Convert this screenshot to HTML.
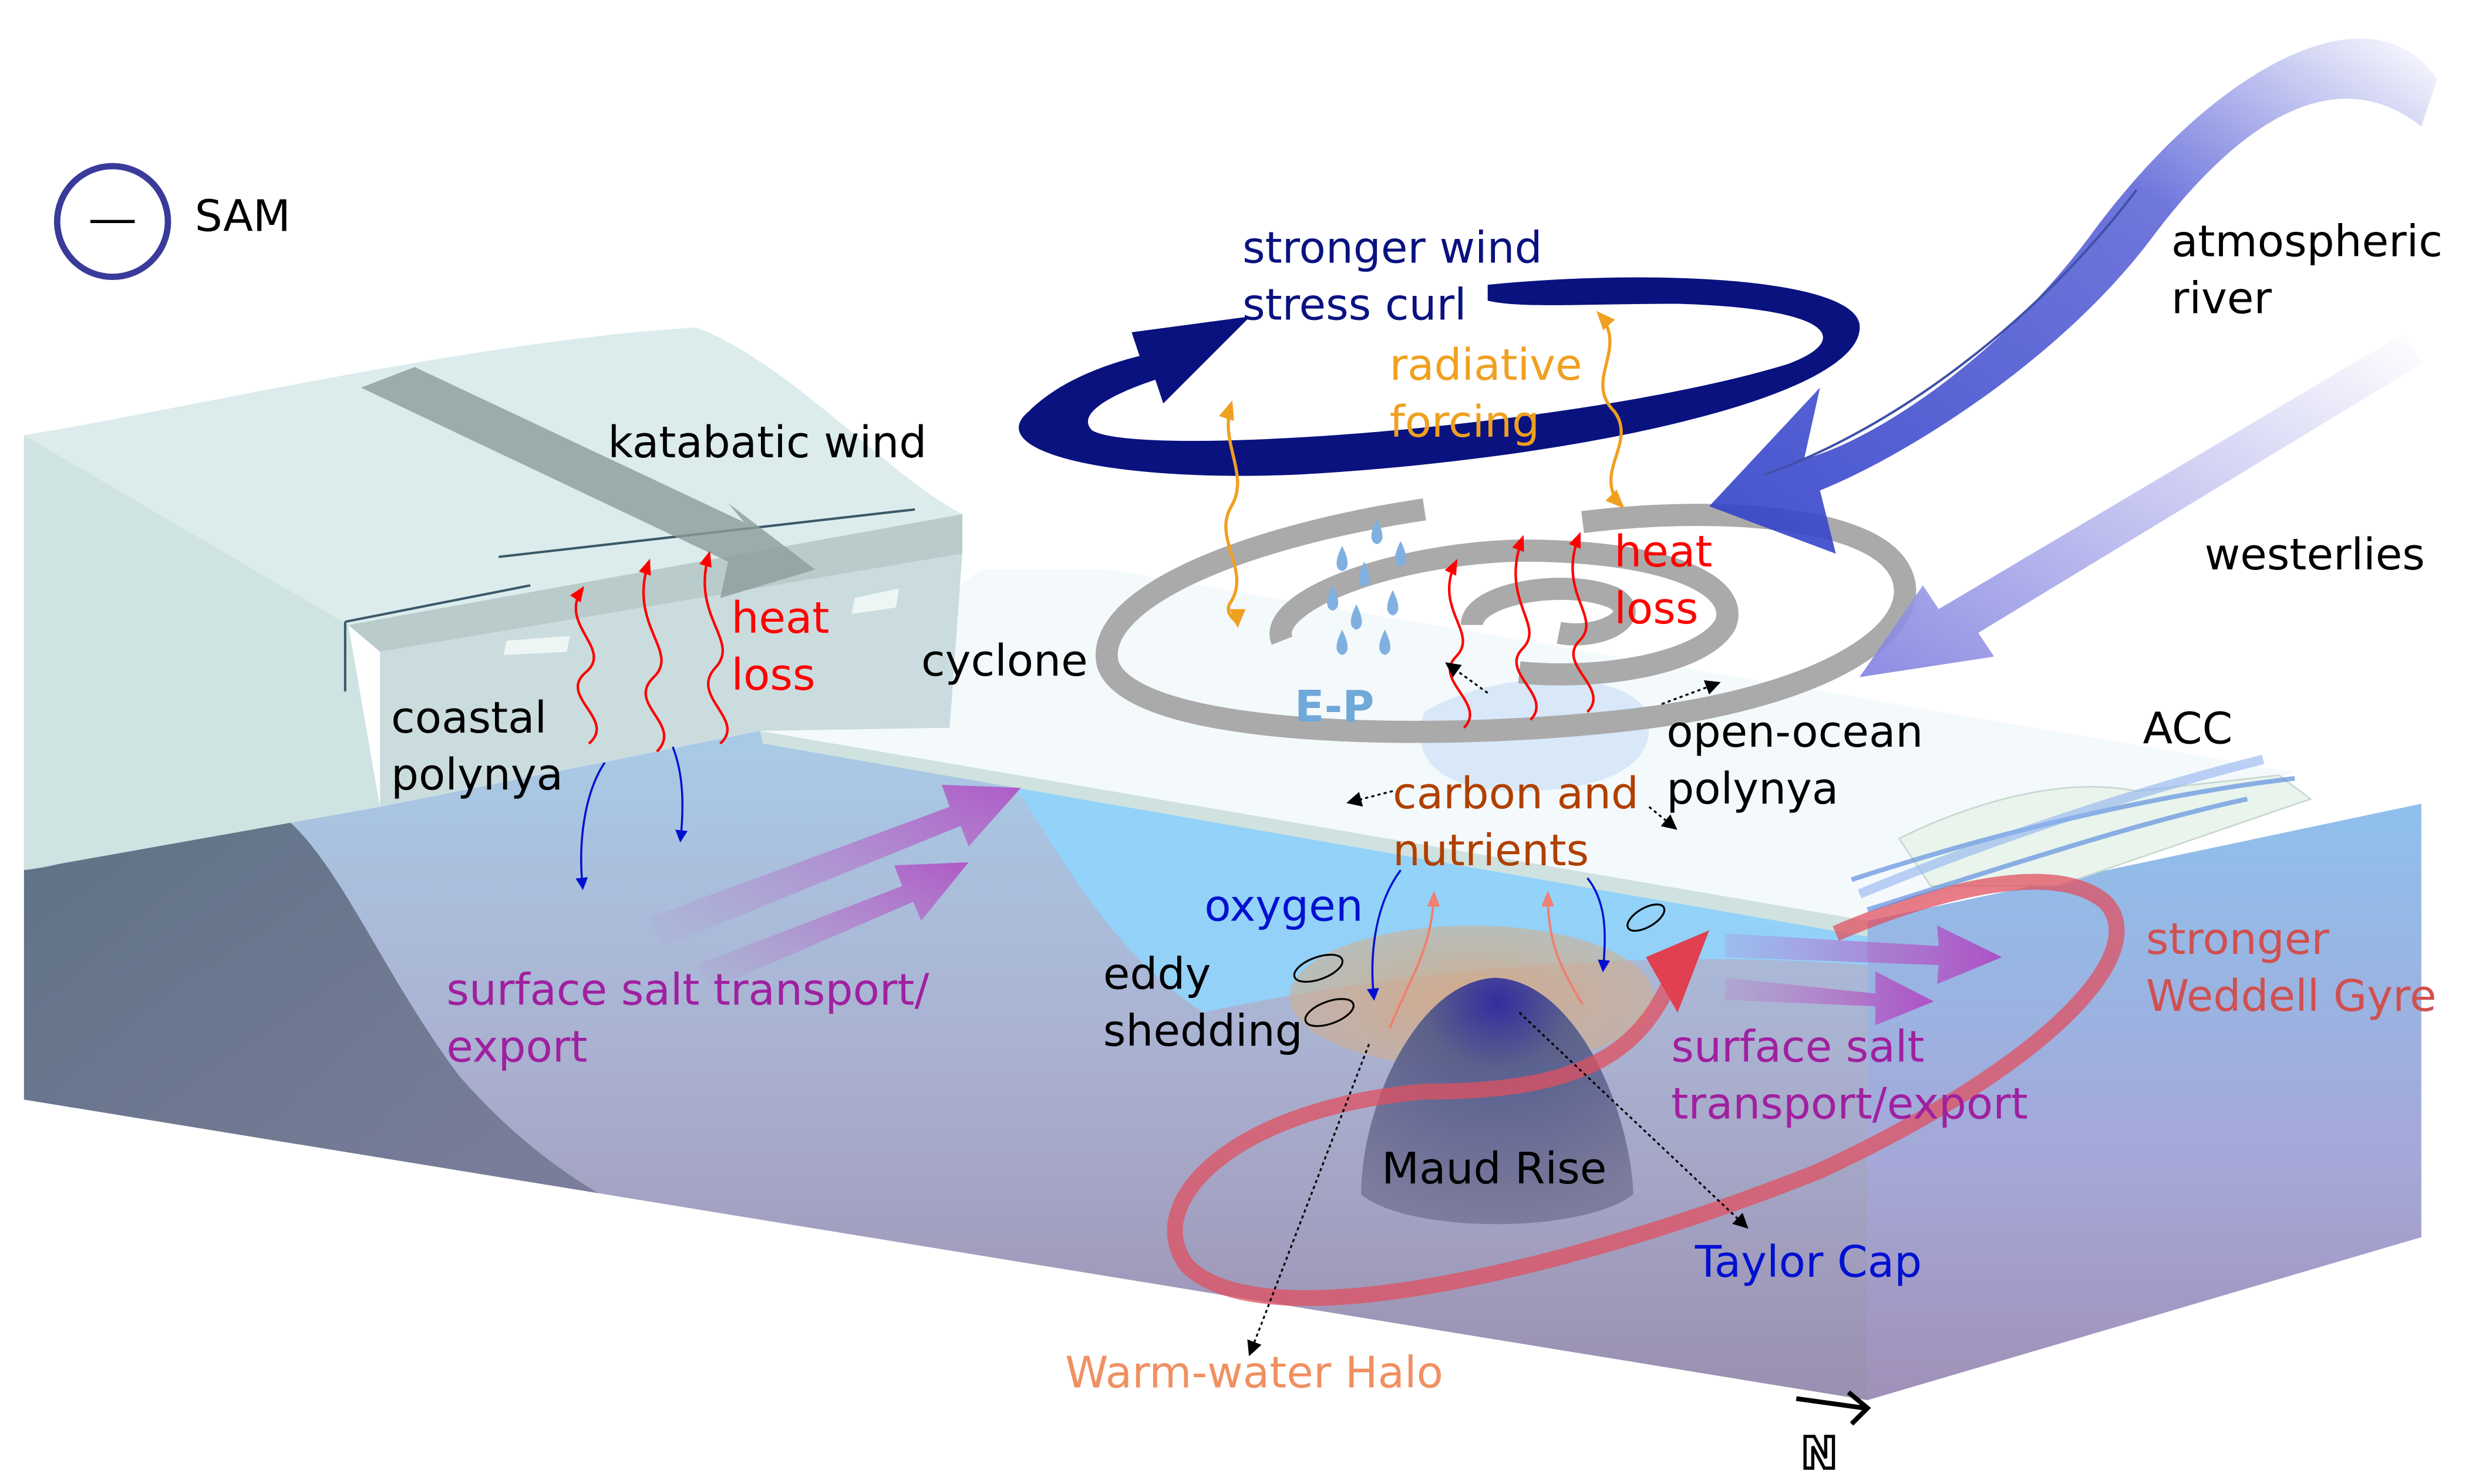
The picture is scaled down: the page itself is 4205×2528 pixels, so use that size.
<!DOCTYPE html>
<html><head><meta charset="utf-8"><style>
html,body{margin:0;padding:0;background:#fff;}
svg{display:block;}
text{font-family:"DejaVu Sans","Liberation Sans",sans-serif;font-size:27.5px;}
</style></head><body>
<svg width="4205" height="2528" viewBox="0 0 1560 938" xmlns="http://www.w3.org/2000/svg">
<defs>
<clipPath id="fc"><polygon points="15,545 240,510 480,462 1180,582 1180,885 15,695"/></clipPath>
<linearGradient id="front" x1="0" y1="0" x2="0" y2="1">
<stop offset="0" stop-color="#a9cbe6"/><stop offset="0.5" stop-color="#aab0d0"/><stop offset="1" stop-color="#9a8fb0"/></linearGradient>
<linearGradient id="right" x1="0" y1="0" x2="0" y2="1">
<stop offset="0" stop-color="#8fc0ec"/><stop offset="0.6" stop-color="#a5a8d8"/><stop offset="1" stop-color="#a090b8"/></linearGradient>
<linearGradient id="floor" x1="0" y1="0" x2="1" y2="1">
<stop offset="0" stop-color="#5a6e80"/><stop offset="1" stop-color="#8c84a8"/></linearGradient>
<linearGradient id="salt" x1="0" y1="1" x2="1" y2="0">
<stop offset="0" stop-color="#c060c0" stop-opacity="0"/><stop offset="1" stop-color="#b040c0"/></linearGradient>
<linearGradient id="salt2" x1="0" y1="0" x2="1" y2="0">
<stop offset="0" stop-color="#c060c0" stop-opacity="0.2"/><stop offset="1" stop-color="#b040c0"/></linearGradient>
<linearGradient id="ar" x1="1" y1="0" x2="0" y2="1">
<stop offset="0" stop-color="#ffffff"/><stop offset="0.35" stop-color="#6068d8"/><stop offset="1" stop-color="#3040c8"/></linearGradient>
<linearGradient id="west" x1="1" y1="0" x2="0" y2="1">
<stop offset="0" stop-color="#ffffff"/><stop offset="1" stop-color="#8080e0"/></linearGradient>
<radialGradient id="maud" cx="0.5" cy="0.1" r="0.9">
<stop offset="0" stop-color="#2020a0"/><stop offset="0.3" stop-color="#505888"/><stop offset="1" stop-color="#7a7898"/></radialGradient>
<radialGradient id="halo" cx="0.5" cy="0.5" r="0.5">
<stop offset="0" stop-color="#d8a880"/><stop offset="1" stop-color="#d0b090" stop-opacity="0.7"/></radialGradient>
<marker id="ah" markerWidth="8" markerHeight="8" refX="6" refY="4" orient="auto"><path d="M0,0 L8,4 L0,8 z" fill="#000"/></marker>
<marker id="ahr" markerWidth="10" markerHeight="8" refX="8" refY="4" orient="auto" markerUnits="userSpaceOnUse"><path d="M0,0 L10,4 L0,8 z" fill="red"/></marker>
<marker id="ahb" markerWidth="6" markerHeight="6" refX="4" refY="3" orient="auto"><path d="M0,0 L6,3 L0,6 z" fill="#0010d0"/></marker>
<marker id="aho" markerWidth="12" markerHeight="10" refX="10" refY="5" orient="auto-start-reverse" markerUnits="userSpaceOnUse"><path d="M0,0 L12,5 L0,10 z" fill="#f0a020"/></marker>
<marker id="ahs" markerWidth="10" markerHeight="8" refX="8" refY="4" orient="auto" markerUnits="userSpaceOnUse"><path d="M0,0 L10,4 L0,8 z" fill="#f08070"/></marker>
</defs>

<polygon points="15,545 240,510 480,462 1180,582 1180,885 15,695" fill="url(#front)"/>
<polygon points="1180,582 1530,508 1530,782 1180,885" fill="url(#right)"/>
<path d="M640,495 L1180,585 L1180,610 C1050,600 900,610 760,640 C700,600 670,540 640,495 Z" fill="#90d4fc" opacity="0.9"/>
<path clip-path="url(#fc)" d="M15,550 C70,545 110,505 150,505 C200,505 230,600 290,680 C360,760 450,805 600,810 L600,900 L15,900 Z" fill="url(#floor)" opacity="0.95"/>
<polygon points="480,462 620,360 700,360 1450,488 1180,582" fill="#f4f9fc"/>
<polygon points="480,462 1180,582 1180,592 482,470" fill="#cfe2e0"/>
<path d="M1200,530 C1240,510 1300,490 1350,500 L1440,490 L1460,505 L1300,560 L1220,560 Z" fill="#e8f4ec" stroke="#c8d8d0"/>
<path d="M900,450 C950,420 1030,425 1040,450 C1050,480 1020,500 960,500 C910,500 890,480 900,450 Z" fill="#d8e8f8"/>

<path d="M15,275 C100,262 300,215 440,207 C500,230 560,300 608,325 L220,395 Z" fill="#dcecec"/>
<polygon points="15,275 220,395 240,510 15,550" fill="#cfe3e3"/>
<polygon points="220,395 608,325 608,350 240,412" fill="#b9cccb"/>
<polygon points="240,412 608,350 600,460 480,462 240,510" fill="#c5d8dc" opacity="0.9"/>
<line x1="315" y1="352" x2="578" y2="322" stroke="#3a5868" stroke-width="1.5"/>
<line x1="218" y1="393" x2="218" y2="437" stroke="#3a5868" stroke-width="1.5"/>
<line x1="218" y1="393" x2="335" y2="370" stroke="#3a5868" stroke-width="1.5"/>
<path d="M228,245 L262,232 L470,330 L460,318 L515,360 L455,378 L460,355 Z" fill="#8c9c9a" opacity="0.8"/>
<polygon points="320,405 360,402 358,412 318,414" fill="#eef5f5"/>
<polygon points="540,378 568,372 566,384 538,388" fill="#eef5f5"/>

<path d="M410,580 L600,510 L595,496 L645,498 L612,535 L607,522 L420,598 Z" fill="url(#salt)" opacity="0.8"/>
<path d="M440,610 L570,560 L565,547 L612,545 L582,582 L577,570 L450,625 Z" fill="url(#salt)" opacity="0.8"/>
<path d="M1090,590 L1225,598 L1224,585 L1265,605 L1224,622 L1225,610 L1090,605 Z" fill="url(#salt2)" opacity="0.85"/>
<path d="M1090,618 L1185,628 L1185,614 L1222,633 L1185,648 L1185,636 L1090,632 Z" fill="url(#salt2)" opacity="0.85"/>

<ellipse cx="930" cy="630" rx="115" ry="45" fill="url(#halo)" opacity="0.85"/>
<path d="M860,755 C860,700 895,620 945,618 C995,620 1030,700 1032,755 C1000,780 890,780 860,755 Z" fill="url(#maud)" opacity="0.9"/>

<path d="M1060,610 C1040,660 1010,690 900,690 C780,700 720,760 750,800 C800,850 1000,800 1150,740 C1300,670 1360,600 1330,570 C1300,545 1230,560 1160,590" fill="none" stroke="#e05060" stroke-width="10" opacity="0.75"/>
<polygon points="1080,588 1040,605 1060,640" fill="#e04050"/>

<path d="M1450,492 C1380,500 1280,520 1170,556" fill="none" stroke="#6090e0" stroke-width="3" opacity="0.7"/>
<path d="M1420,505 C1350,520 1260,550 1180,575" fill="none" stroke="#6090e0" stroke-width="3" opacity="0.7"/>
<path d="M1430,480 C1350,500 1260,530 1175,565" fill="none" stroke="#90b0f0" stroke-width="6" opacity="0.6"/>

<g fill="none" stroke="#aaaaaa" stroke-width="14">
<path d="M900,322 C780,340 690,380 700,420 C715,465 900,470 1030,455 C1160,440 1220,395 1200,360 C1180,325 1080,320 1000,330"/>
<path d="M810,405 C800,380 880,350 960,348 C1060,348 1100,372 1090,395 C1075,420 1010,430 960,425"/>
<path d="M930,395 C930,375 990,365 1020,378 C1040,390 1010,405 985,400"/>
</g>

<path d="M940,180 C1040,170 1170,175 1175,205 C1180,250 1000,290 820,300 C700,305 620,285 650,260 C670,240 700,230 720,225 L715,210 L790,200 L735,255 L730,240 C700,250 680,262 690,272 C720,290 1000,270 1130,230 C1170,215 1160,195 1060,192 C1000,192 960,195 940,190 Z" fill="#0a1280"/>

<path d="M1540,50 C1500,-10 1400,40 1320,150 C1260,230 1180,280 1140,290 L1150,245 L1080,320 L1160,350 L1150,310 C1200,290 1300,230 1360,150 C1420,70 1480,40 1530,80 Z" fill="url(#ar)" opacity="0.9"/>
<path d="M1350,120 C1290,200 1200,270 1115,300" fill="none" stroke="#4050a8" stroke-width="1.5"/>
<path d="M1520,210 L1530,230 L1250,400 L1260,415 L1175,428 L1215,370 L1225,385 Z" fill="url(#west)" opacity="0.9"/>

<path d="M778,255 C770,280 790,300 778,320 C766,340 790,360 778,380 C772,388 782,392 782,395" fill="none" stroke="#f0a020" stroke-width="2" marker-end="url(#aho)" marker-start="url(#aho)"/>
<path d="M1010,198 C1030,220 1000,240 1020,260 C1035,280 1005,300 1025,320" fill="none" stroke="#f0a020" stroke-width="2" marker-end="url(#aho)" marker-start="url(#aho)"/>

<g fill="#80b0e0">
<path d="M870,328 q-7,14 0,16 q7,-2 0,-16z"/><path d="M848,345 q-7,14 0,16 q7,-2 0,-16z"/><path d="M885,342 q-7,14 0,16 q7,-2 0,-16z"/>
<path d="M862,355 q-7,14 0,16 q7,-2 0,-16z"/><path d="M842,370 q-7,14 0,16 q7,-2 0,-16z"/><path d="M880,373 q-7,14 0,16 q7,-2 0,-16z"/>
<path d="M857,382 q-7,14 0,16 q7,-2 0,-16z"/><path d="M848,398 q-7,14 0,16 q7,-2 0,-16z"/><path d="M875,398 q-7,14 0,16 q7,-2 0,-16z"/>
</g>

<g fill="none" stroke="red" stroke-width="1.6" marker-end="url(#ahr)">
<path d="M372,470 C390,455 352,440 370,425 C388,410 352,395 368,372"/>
<path d="M415,475 C432,458 395,445 413,428 C430,412 396,395 410,355"/>
<path d="M455,470 C472,455 435,440 452,422 C468,405 436,390 448,350"/>
<path d="M925,460 C940,445 905,430 920,415 C935,400 905,385 920,355"/>
<path d="M967,455 C982,440 947,425 962,410 C977,395 947,380 962,340"/>
<path d="M1003,450 C1018,435 983,420 998,405 C1013,390 983,375 998,338"/>
</g>
<g fill="none" stroke="#0010d0" stroke-width="1.3" marker-end="url(#ahb)">
<path d="M382,482 C370,500 365,530 368,560"/>
<path d="M425,472 C432,490 432,510 430,530"/>
<path d="M885,550 C870,570 865,600 868,630"/>
<path d="M1003,555 C1015,570 1015,590 1013,612"/>
</g>
<g fill="none" stroke="#f08070" stroke-width="1.5" marker-end="url(#ahs)">
<path d="M878,650 C890,620 905,600 906,565"/>
<path d="M1000,635 C985,610 978,595 978,565"/>
</g>
<g fill="none" stroke="#000" stroke-width="1.2">
<ellipse cx="833" cy="612" rx="16" ry="7" transform="rotate(-20 833 612)"/>
<ellipse cx="840" cy="640" rx="16" ry="7" transform="rotate(-20 840 640)"/>
<ellipse cx="1040" cy="580" rx="13" ry="6" transform="rotate(-30 1040 580)"/>
</g>

<g fill="none" stroke="#000" stroke-width="1.2" stroke-dasharray="2,2" marker-end="url(#ah)">
<path d="M940,438 L915,420"/>
<path d="M1050,445 L1085,432"/>
<path d="M880,500 L853,507"/>
<path d="M1042,510 L1058,523"/>
<path d="M865,660 L790,855"/>
<path d="M960,640 L1103,775"/>
</g>

<circle cx="71" cy="140" r="35" fill="none" stroke="#3a3a9a" stroke-width="4"/>
<line x1="57" y1="140" x2="85" y2="140" stroke="#000" stroke-width="2"/>
<text x="123" y="146" fill="#000">SAM</text>

<text x="785" y="166" fill="#0a1280">stronger wind</text>
<text x="785" y="202" fill="#0a1280">stress curl</text>
<text x="878" y="240" fill="#f0a020">radiative</text>
<text x="878" y="276" fill="#f0a020">forcing</text>
<text x="1372" y="162" fill="#000">atmospheric</text>
<text x="1372" y="198" fill="#000">river</text>
<text x="1393" y="360" fill="#000">westerlies</text>
<text x="384" y="289" fill="#000">katabatic wind</text>
<text x="462" y="400" fill="red">heat</text>
<text x="462" y="436" fill="red">loss</text>
<text x="1020" y="358" fill="red">heat</text>
<text x="1020" y="394" fill="red">loss</text>
<text x="582" y="427" fill="#000">cyclone</text>
<text x="247" y="463" fill="#000">coastal</text>
<text x="247" y="499" fill="#000">polynya</text>
<text x="818" y="456" fill="#70a8d8" font-weight="bold">E-P</text>
<text x="1053" y="472" fill="#000">open-ocean</text>
<text x="1053" y="508" fill="#000">polynya</text>
<text x="1354" y="470" fill="#000">ACC</text>
<text x="880" y="511" fill="#b04000">carbon and</text>
<text x="880" y="547" fill="#b04000">nutrients</text>
<text x="761" y="582" fill="#0010d0">oxygen</text>
<text x="697" y="625" fill="#000">eddy</text>
<text x="697" y="661" fill="#000">shedding</text>
<text x="282" y="635" fill="#a020a0">surface salt transport/</text>
<text x="282" y="671" fill="#a020a0">export</text>
<text x="1056" y="671" fill="#a020a0">surface salt</text>
<text x="1056" y="707" fill="#a020a0">transport/export</text>
<text x="1356" y="603" fill="#d05050">stronger</text>
<text x="1356" y="639" fill="#d05050">Weddell Gyre</text>
<text x="873" y="748" fill="#000">Maud Rise</text>
<text x="1071" y="807" fill="#0010d0">Taylor Cap</text>
<text x="673" y="877" fill="#f09060">Warm-water Halo</text>
<path d="M1135,884 L1178,890 M1168,880 L1180,890 L1170,900" fill="none" stroke="#000" stroke-width="3"/>
<text x="1138" y="928" fill="#fff" stroke="#000" stroke-width="2" font-size="34" font-weight="bold">N</text>
</svg>
</body></html>
